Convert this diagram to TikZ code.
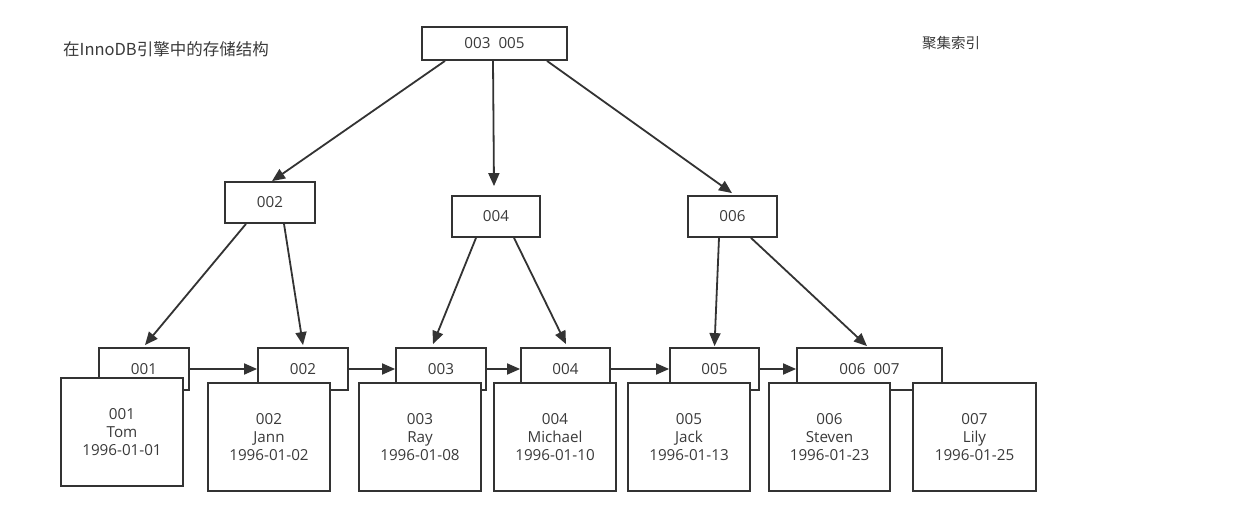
\documentclass[tikz,border=0pt]{standalone}
\usepackage{fontspec}
\setmainfont{Open Sans}
\newfontfamily\cjk{Noto Sans CJK SC}
\usetikzlibrary{arrows.meta}
\definecolor{ln}{HTML}{333333}
\definecolor{txt}{HTML}{3A3A3A}
\begin{document}
\begin{tikzpicture}[x=1pt,y=-1pt,
  box/.style={draw=ln, line width=1.8pt, fill=white, rectangle, inner sep=0pt,
    font=\fontsize{15.2}{18}\selectfont, text=txt, align=center},
  arr/.style={draw=ln, line width=1.8pt, -{Triangle[length=13pt,width=11pt]}},
  lbl/.style={text=txt, inner sep=0pt},
]
\useasboundingbox[fill=white] (0,0) rectangle (1237,532);

% titles
\node[lbl, font=\cjk\fontsize{16.5}{18}\selectfont] (title) at (166,49) {在InnoDB引擎中的存储结构};
\node[lbl, font=\cjk\fontsize{14.5}{18}\selectfont] (kind) at (951,43) {聚集索引};

% internal nodes
\node[box, minimum width=145pt, minimum height=33pt] (root) at (494.5,43.5) {003\hspace{8pt}005};
\node[box, minimum width=90pt, minimum height=41pt] (n2) at (270,202.5) {002};
\node[box, minimum width=88pt, minimum height=41pt] (n4) at (496,216.5) {004};
\node[box, minimum width=89pt, minimum height=41pt] (n6) at (732.5,216.5) {006};

% leaf key boxes
\node[box, minimum width=90pt, minimum height=42pt] (k1) at (144,369) {001};
\node[box, minimum width=90pt, minimum height=42pt] (k2) at (303,369) {002};
\node[box, minimum width=90pt, minimum height=42pt] (k3) at (441,369) {003};
\node[box, minimum width=89pt, minimum height=42pt] (k4) at (565.5,369) {004};
\node[box, minimum width=89pt, minimum height=42pt] (k5) at (714.5,369) {005};
\node[box, minimum width=145pt, minimum height=42pt] (k67) at (869.5,369) {006\hspace{8pt}007};

% tree arrows
\draw[arr] ([xshift=-49.5pt]root.south) -- ([xshift=2pt]n2.north);
\draw[arr] ([xshift=-1.5pt]root.south) -- ([xshift=-2pt,yshift=9pt]n4.north);
\draw[arr] ([xshift=52.5pt]root.south) -- ([xshift=-0.5pt,yshift=2pt]n6.north);

\draw[arr] ([xshift=-24pt]n2.south) -- ([xshift=1pt,yshift=2pt]k1.north);
\draw[arr] ([xshift=14pt]n2.south) -- ([yshift=2pt]k2.north);
\draw[arr] ([xshift=-20pt]n4.south) -- ([xshift=-8pt,yshift=3pt]k3.north);
\draw[arr] ([xshift=18pt]n4.south) -- ([xshift=0.5pt,yshift=3pt]k4.north);
\draw[arr] ([xshift=-13.5pt]n6.south) -- ([yshift=1pt]k5.north);
\draw[arr] ([xshift=18.5pt]n6.south) -- ([xshift=-2.5pt,yshift=1pt]k67.north);

% leaf links
\draw[arr] (k1.east) -- (k2.west);
\draw[arr] (k2.east) -- (k3.west);
\draw[arr] (k3.east) -- (k4.west);
\draw[arr] (k4.east) -- (k5.west);
\draw[arr] (k5.east) -- (k67.west);

% data boxes
\node[box, minimum width=122pt, minimum height=108pt] (d1) at (122,432) {001\\Tom\\1996-01-01};
\node[box, minimum width=122pt, minimum height=108pt] (d2) at (269,437) {002\\Jann\\1996-01-02};
\node[box, minimum width=122pt, minimum height=108pt] (d3) at (420,437) {003\\Ray\\1996-01-08};
\node[box, minimum width=122pt, minimum height=108pt] (d4) at (555,437) {004\\Michael\\1996-01-10};
\node[box, minimum width=122pt, minimum height=108pt] (d5) at (689,437) {005\\Jack\\1996-01-13};
\node[box, minimum width=121pt, minimum height=108pt] (d6) at (829.5,437) {006\\Steven\\1996-01-23};
\node[box, minimum width=123pt, minimum height=108pt] (d7) at (974.5,437) {007\\Lily\\1996-01-25};
\end{tikzpicture}
\end{document}
